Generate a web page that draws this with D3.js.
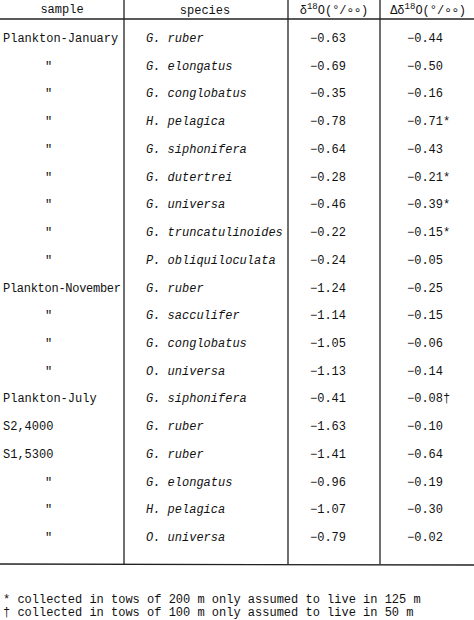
<!DOCTYPE html>
<html><head><meta charset="utf-8">
<script src="https://cdn.jsdelivr.net/npm/d3@7"></script>
<style>body{margin:0;background:#fff}</style></head>
<body><svg id="c" width="474" height="620"></svg>
<script>
const samples=["Plankton-January","\"","\"","\"","\"","\"","\"","\"","\"","Plankton-November","\"","\"","\"","Plankton-July","S2,4000","S1,5300","\"","\"","\""];
const species=["G. ruber","G. elongatus","G. conglobatus","H. pelagica","G. siphonifera","G. dutertrei","G. universa","G. truncatulinoides","P. obliquiloculata","G. ruber","G. sacculifer","G. conglobatus","O. universa","G. siphonifera","G. ruber","G. ruber","G. elongatus","H. pelagica","O. universa"];
const d18=["−0.63","−0.69","−0.35","−0.78","−0.64","−0.28","−0.46","−0.22","−0.24","−1.24","−1.14","−1.05","−1.13","−0.41","−1.63","−1.41","−0.96","−1.07","−0.79"];
const dd18=["−0.44","−0.50","−0.16","−0.71*","−0.43","−0.21*","−0.39*","−0.15*","−0.05","−0.25","−0.15","−0.06","−0.14","−0.08†","−0.10","−0.64","−0.19","−0.30","−0.02"];
const notes=["* collected in tows of 200 m only assumed to live in 125 m","† collected in tows of 100 m only assumed to live in 50 m"];
const svg=d3.select("#c");
const font="'Liberation Mono','DejaVu Sans Mono',monospace";
const y=d3.scaleBand().domain(d3.range(samples.length)).range([24,551]);
const stroke="#222";
svg.append("line").attr("x1",0).attr("x2",474).attr("y1",19).attr("y2",19).attr("stroke",stroke).attr("stroke-width",1.3);
svg.append("line").attr("x1",0).attr("x2",474).attr("y1",564).attr("y2",565).attr("stroke",stroke).attr("stroke-width",1.3);
[124,288,380].forEach(x=>svg.append("line").attr("x1",x).attr("x2",x).attr("y1",0).attr("y2",564).attr("stroke",stroke).attr("stroke-width",1.3));
const hdr=svg.append("g").attr("font-family",font).attr("font-size",12).attr("fill","#111").attr("text-anchor","middle");
hdr.append("text").attr("x",62).attr("y",13).text("sample");
hdr.append("text").attr("x",205).attr("y",14).text("species");
const h1=hdr.append("text").attr("x",334).attr("y",14);
h1.append("tspan").text("δ");h1.append("tspan").attr("dy",-5).attr("font-size",9).text("18");h1.append("tspan").attr("dy",5).text("O(°/∘∘)");
const h2=hdr.append("text").attr("x",428).attr("y",14);
h2.append("tspan").text("Δδ");h2.append("tspan").attr("dy",-5).attr("font-size",9).text("18");h2.append("tspan").attr("dy",5).text("O(°/∘∘)");
const rows=svg.append("g").attr("font-family",font).attr("font-size",12).attr("fill","#111");
const cy=i=>y(i)+y.bandwidth()/2+4;
rows.selectAll(".s").data(samples).join("text").attr("x",d=>d==="\""?45:3).attr("y",(d,i)=>cy(i)).attr("textLength",d=>d.length>16?118:null).text(d=>d);
rows.selectAll(".p").data(species).join("text").attr("x",146).attr("y",(d,i)=>cy(i)).attr("font-style","italic").text(d=>d);
rows.selectAll(".a").data(d18).join("text").attr("x",310).attr("y",(d,i)=>cy(i)).text(d=>d);
rows.selectAll(".b").data(dd18).join("text").attr("x",407).attr("y",(d,i)=>cy(i)).text(d=>d);
svg.append("g").attr("font-family",font).attr("font-size",12).attr("fill","#111")
 .selectAll("text").data(notes).join("text").attr("x",3).attr("y",(d,i)=>603+i*13).text(d=>d);
</script></body></html>
